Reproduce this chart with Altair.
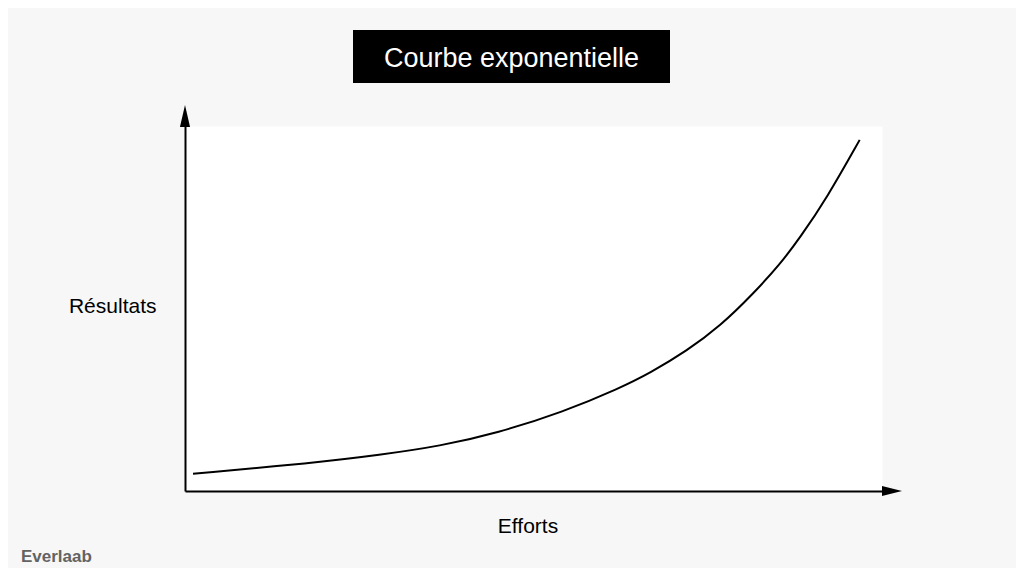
import altair as alt
import pandas as pd

# Curve values (effort -> result, both on a 0-100 scale)
efforts = [1.15, 18.4, 28.0, 36.6, 44.8, 54.2, 62.4, 66.7, 72.0, 76.8, 81.5, 85.4, 88.2, 92.1, 96.8]
resultats = [4.7, 7.7, 9.9, 12.3, 15.9, 21.6, 28.2, 32.3, 38.4, 45.2, 54.0, 62.2, 69.3, 80.3, 96.2]

title_text = "Courbe exponentielle"
x_title = "Efforts"
y_title = "Résultats"
brand = "Everlaab"

FONT = "Liberation Sans"
W, H = 697, 365

df = pd.DataFrame({"effort": efforts, "resultat": resultats})
one = alt.Data(values=[{"k": 1}])

xscale = alt.Scale(domain=[0, 100], nice=False, zero=True)
yscale = alt.Scale(domain=[0, 100], nice=False, zero=True)

curve = alt.Chart(df).mark_line(
    color="black", strokeWidth=2, interpolate="basis", clip=False
).encode(
    x=alt.X("effort:Q", scale=xscale, axis=alt.Axis(
        title=x_title, ticks=False, labels=False, grid=False, domain=True,
        domainColor="black", domainWidth=2,
        titleFont=FONT, titleFontSize=21, titleFontWeight="normal", titleColor="black",
        titleX=342.5, titleY=41, titleAlign="center", titleBaseline="alphabetic")),
    y=alt.Y("resultat:Q", scale=yscale, axis=alt.Axis(
        title=y_title, ticks=False, labels=False, grid=False, domain=True,
        domainColor="black", domainWidth=2,
        titleFont=FONT, titleFontSize=21, titleFontWeight="normal", titleColor="black",
        titleAngle=0, titleX=-29, titleY=186, titleAlign="right", titleBaseline="alphabetic")),
)

y_arrow = alt.Chart(one).mark_point(
    shape="M-0.46,1L0,-1L0.46,1Z", filled=True, color="black", opacity=1, size=484
).encode(x=alt.value(0), y=alt.value(-10))

x_arrow = alt.Chart(one).mark_point(
    shape="M-1,-0.5L1,0L-1,0.5Z", filled=True, color="black", opacity=1, size=400
).encode(x=alt.value(707), y=alt.value(H))

title_box = alt.Chart(one).mark_rect(color="black").encode(
    x=alt.value(168), x2=alt.value(485), y=alt.value(-96), y2=alt.value(-43)
)

title_label = alt.Chart(one).mark_text(
    text=title_text, font=FONT, fontSize=27, color="white", align="center", baseline="alphabetic"
).encode(x=alt.value(326.5), y=alt.value(-59.5))

brand_label = alt.Chart(one).mark_text(
    text=brand, font=FONT, fontSize=17, fontWeight="bold", color="#636363",
    align="left", baseline="alphabetic"
).encode(x=alt.value(-164), y=alt.value(436))

chart = alt.layer(curve, y_arrow, x_arrow, title_box, title_label, brand_label).properties(
    width=W, height=H,
    autosize=alt.AutoSizeParams(type="none"),
    padding={"left": 177, "top": 118, "right": 134, "bottom": 77},
    background="#f7f7f7",
).configure_view(fill="white", stroke="transparent")

chart.save("out.html", embed_options={"renderer": "svg", "actions": False})
